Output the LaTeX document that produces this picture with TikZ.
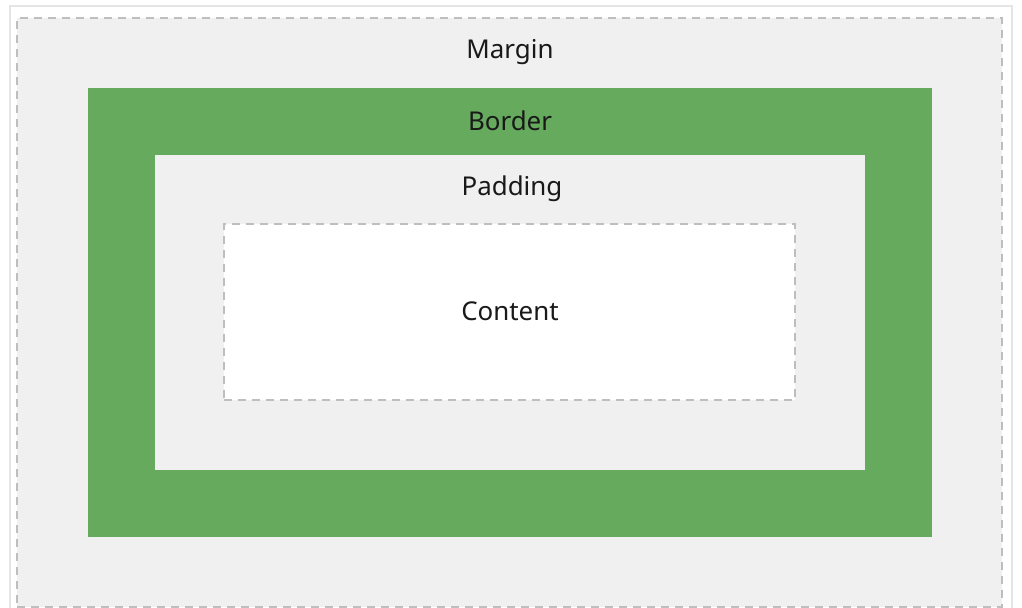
\documentclass[tikz,border=0pt]{standalone}
\usepackage{fontspec}
\setmainfont{Noto Sans}
\usepackage{tikz}
\definecolor{boxgreen}{RGB}{102,170,94}
\definecolor{boxgray}{RGB}{240,240,240}
\definecolor{dashgray}{RGB}{190,190,190}
\tikzset{
    layer/.style={shape=rectangle, inner sep=0pt, outer sep=0pt},
    dashedge/.style={draw=dashgray, line width=2bp, dash pattern=on 8bp off 6bp},
    label/.style={font=\fontsize{26}{30}\selectfont, text=black!90, inner sep=0pt}
}
\begin{document}
\begin{tikzpicture}[x=1bp, y=-1bp]
    	% Frame:
    	\useasboundingbox (0,0) rectangle (1022,608);
    	\fill[white] (0,0) rectangle (1022,608);
    	\draw[draw=black!10, line width=2bp] (10,6) rectangle (1012,620);
    	% Boxes, outer to inner:
    	\node[layer, dashedge, fill=boxgray, minimum width=985bp, minimum height=589bp](Margin) at (509.5, 312.5){};
    	\node[layer, fill=boxgreen, minimum width=844bp, minimum height=449bp](Border) at (510, 312.5){};
    	\node[layer, fill=boxgray, minimum width=710bp, minimum height=315bp](Padding) at (510, 312.5){};
    	\node[layer, dashedge, fill=white, minimum width=571bp, minimum height=176bp](Content) at (509.5, 312){};
    	% Labels:
    	\node[label](MarginText) at (510, 52){Margin};
    	\node[label](BorderText) at (510, 121){Border};
    	\node[label](PaddingText) at (512, 189){Padding};
    	\node[label](ContentText) at (510, 311){Content};
\end{tikzpicture}
\end{document}
